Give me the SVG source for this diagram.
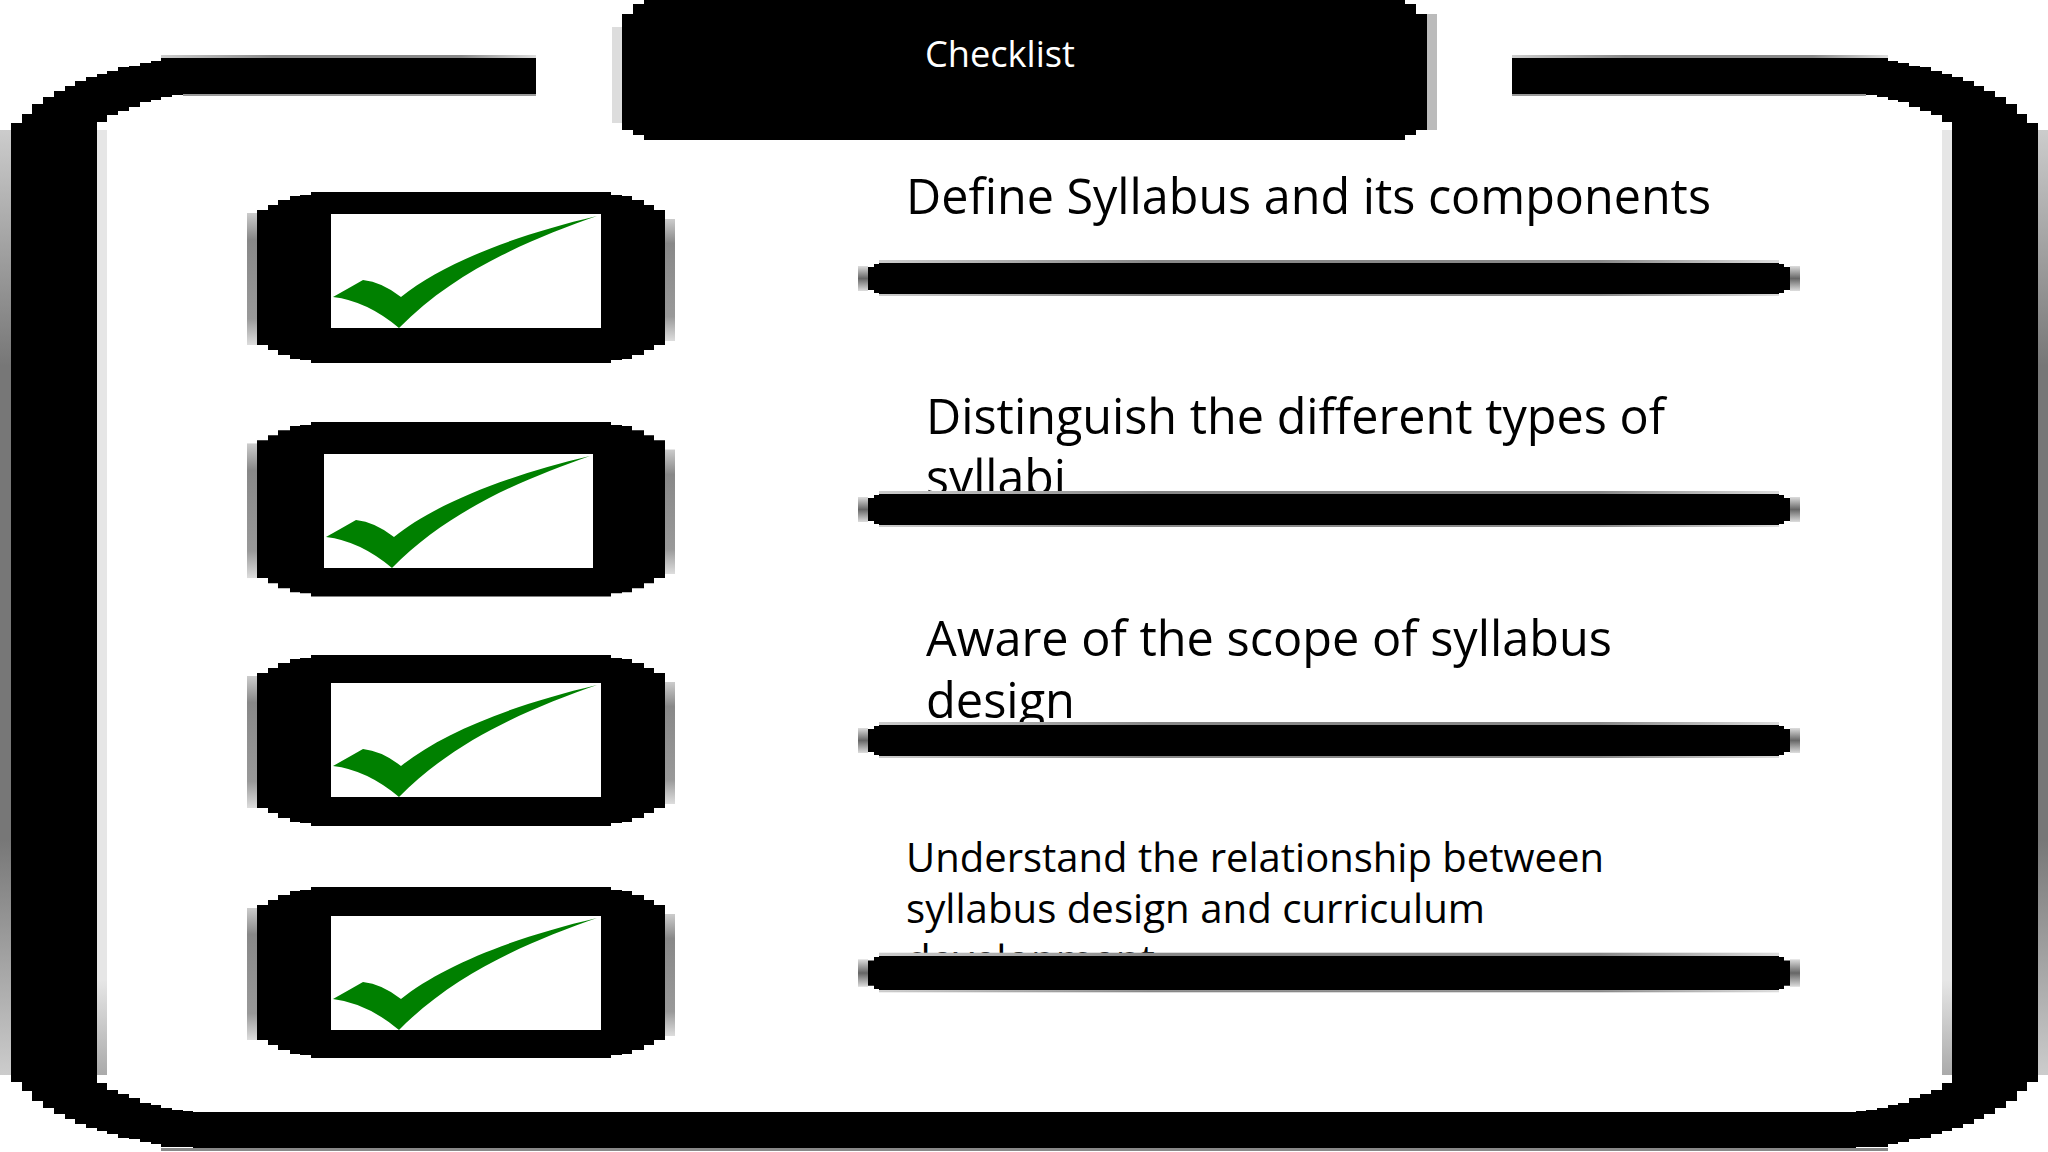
<svg xmlns="http://www.w3.org/2000/svg" width="2048" height="1152" viewBox="0 0 2048 1152">
<style>
.t{font-family:"Open Sans","Noto Sans","Liberation Sans",sans-serif;fill:#000}
.l{font-size:50px}
.s{font-size:41px}
.fr{fill:url(#fv)}
.win{fill:#fff}
.chk{fill:#008000}
</style>
<defs>
<linearGradient id="fv" x1="0" y1="0" x2="0" y2="1"><stop offset="0" stop-color="#ccc"/><stop offset=".2" stop-color="#888"/><stop offset=".8" stop-color="#999"/><stop offset="1" stop-color="#ddd"/></linearGradient>
<linearGradient id="fp" x1="0" y1="0" x2="0" y2="1"><stop offset="0" stop-color="#ddd"/><stop offset=".5" stop-color="#666"/><stop offset="1" stop-color="#ddd"/></linearGradient>
<linearGradient id="fo" x1="0" y1="0" x2="0" y2="1"><stop offset="0" stop-color="#ccc"/><stop offset=".25" stop-color="#777"/><stop offset=".75" stop-color="#777"/><stop offset="1" stop-color="#ccc"/></linearGradient>
<linearGradient id="fi" x1="0" y1="0" x2="0" y2="1"><stop offset="0" stop-color="#e6e6e6"/><stop offset=".9" stop-color="#e6e6e6"/><stop offset="1" stop-color="#aaa"/></linearGradient>
<linearGradient id="fh" x1="0" y1="0" x2="1" y2="0"><stop offset="0" stop-color="#ccc"/><stop offset=".3" stop-color="#888"/><stop offset=".8" stop-color="#888"/><stop offset="1" stop-color="#ddd"/></linearGradient>
<g id="badge">
<rect class="fr" x="-10" y="21" width="10" height="132"/>
<rect class="fr" x="408" y="27" width="10" height="122"/>
<path d="M0 18H11V13H21V8H33V4H43V3H54V0H354V3H365V4H375V8H387V13H397V18H408V153H397V158H387V163H375V167H365V168H354V171H54V168H43V167H33V163H21V158H11V153H0Z"/>
</g>
<path id="tick" class="chk" d="M1 83Q17 74 31 66Q50 68 69 83C110 50 180 22 265 2C200 25 125 55 67 114Q35 87 1 83Z"/>
<g id="pill">
<rect x="11" y="-3" width="900" height="3" fill="url(#fh)"/>
<rect x="11" y="31" width="900" height="2" fill="url(#fh)"/>
<rect x="-10" y="3" width="10" height="25" fill="url(#fp)"/>
<rect x="922" y="3" width="10" height="25" fill="url(#fp)"/>
<path d="M0 4H6V1H11V0H911V1H916V4H922V27H916V30H911V31H11V30H6V27H0Z"/>
</g>
<path id="corner" d="M11 130V123H22V114H32V104H43V97H54V91H65V86H75V81H86V77H97V74H107V71H118V67H129V66H140V63H151V61H161V58H193V94H183V95H172V97H161V100H151V102H140V107H129V111H118V115H107V122H97V130Z"/>
</defs>
<rect width="2048" height="1152" fill="#fff"/>
<g id="frame">
<rect x="0" y="130" width="11" height="945" fill="url(#fo)"/>
<rect x="2038" y="130" width="10" height="945" fill="url(#fo)"/>
<rect x="97" y="130" width="10" height="945" fill="url(#fi)"/>
<rect x="1942" y="130" width="10" height="945" fill="url(#fi)"/>
<rect x="161" y="55" width="375" height="3" fill="url(#fh)"/>
<rect x="1512" y="55" width="376" height="3" fill="url(#fh)"/>
<rect x="183" y="94" width="353" height="2" fill="#999"/>
<rect x="1512" y="94" width="354" height="2" fill="#999"/>
<rect x="161" y="1148" width="1727" height="3" fill="#888"/>
<use href="#corner"/>
<use href="#corner" transform="matrix(-1 0 0 1 2049 0)"/>
<use href="#corner" transform="matrix(1 0 0 -1 0 1205)"/>
<use href="#corner" transform="matrix(-1 0 0 -1 2049 1205)"/>
<rect x="193" y="58" width="343" height="36"/>
<rect x="1512" y="58" width="344" height="36"/>
<rect x="11" y="130" width="86" height="945"/>
<rect x="1952" y="130" width="86" height="945"/>
<rect x="193" y="1112" width="1663" height="36"/>
</g>
<g id="title">
<rect x="612" y="27" width="10" height="96" fill="#ddd"/>
<rect x="1427" y="14" width="10" height="116" fill="#bbb"/>
<path d="M622 14H633V4H644V0H1405V4H1416V14H1427V130H1416V135H1405V140H644V135H633V130H622Z"/>
<text x="925" y="67" class="t" font-size="37" style="fill:#fff" textLength="150" lengthAdjust="spacingAndGlyphs">Checklist</text>
</g>
<g id="item-1">
<use href="#badge" x="257" y="192"/>
<rect class="win" x="331" y="214" width="270" height="114"/>
<use href="#tick" x="332" y="214"/>
<text x="906" y="214" class="t l" textLength="805" lengthAdjust="spacingAndGlyphs">Define Syllabus and its components</text>
<use href="#pill" x="868" y="263"/>
</g>
<g id="item-2">
<use href="#badge" transform="translate(257 422) scale(1 1.02)"/>
<rect class="win" x="324" y="454" width="269" height="114"/>
<use href="#tick" x="325" y="454"/>
<text x="926" y="434" class="t l" textLength="739" lengthAdjust="spacingAndGlyphs">Distinguish the different types of</text>
<text x="926" y="495" class="t l" textLength="140" lengthAdjust="spacingAndGlyphs">syllabi</text>
<use href="#pill" x="868" y="494"/>
</g>
<g id="item-3">
<use href="#badge" x="257" y="655"/>
<rect class="win" x="331" y="683" width="270" height="114"/>
<use href="#tick" x="332" y="683"/>
<text x="926" y="656" class="t l" textLength="686" lengthAdjust="spacingAndGlyphs">Aware of the scope of syllabus</text>
<text x="926" y="718" class="t l" textLength="149" lengthAdjust="spacingAndGlyphs">design</text>
<use href="#pill" x="868" y="725"/>
</g>
<g id="item-4">
<use href="#badge" x="257" y="887"/>
<rect class="win" x="331" y="916" width="270" height="114"/>
<use href="#tick" x="332" y="916"/>
<text x="906" y="872" class="t s" textLength="698" lengthAdjust="spacingAndGlyphs">Understand the relationship between</text>
<text x="906" y="923" class="t s" textLength="579" lengthAdjust="spacingAndGlyphs">syllabus design and curriculum</text>
<text x="906" y="974" class="t s" textLength="249" lengthAdjust="spacingAndGlyphs">development</text>
<use href="#pill" transform="translate(868 956) scale(1 1.1)"/>
</g>
</svg>
